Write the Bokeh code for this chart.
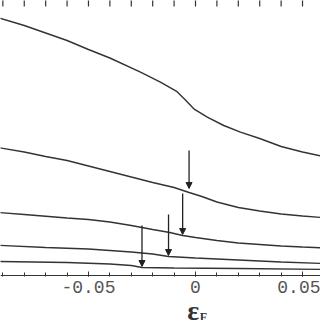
from bokeh.plotting import figure
from bokeh.models import (ColumnDataSource, Arrow, NormalHead, LinearAxis, FixedTicker,
                          Range1d, Label)
from bokeh.embed import file_html
from bokeh.resources import INLINE

# ---- data ----
c1_x = [-0.095, -0.08, -0.07, -0.06, -0.05, -0.04, -0.0257, -0.0164, -0.0086, -0.0047, -0.0008,
        0.0055, 0.0132, 0.021, 0.03, 0.04, 0.05, 0.062]
c1_y = [2.595, 2.50, 2.425, 2.35, 2.26, 2.175, 2.033, 1.933, 1.838, 1.755, 1.667,
        1.583, 1.50, 1.433, 1.37, 1.29, 1.235, 1.18]

c2_x = [-0.095, -0.08, -0.07, -0.06, -0.05, -0.04, -0.03, -0.02, -0.01, -0.003, 0.003, 0.01, 0.02, 0.03, 0.04, 0.05, 0.062]
c2_y = [1.29, 1.235, 1.19, 1.15, 1.095, 1.04, 0.985, 0.93, 0.88, 0.83, 0.79, 0.735, 0.68, 0.645, 0.615, 0.595, 0.575]

c3_x = [-0.095, -0.08, -0.06, -0.05, -0.04, -0.03, -0.02, -0.012, -0.006, 0.0, 0.01, 0.02, 0.03, 0.04, 0.05, 0.062]
c3_y = [0.635, 0.61, 0.575, 0.56, 0.535, 0.50, 0.46, 0.43, 0.40, 0.38, 0.35, 0.325, 0.31, 0.295, 0.285, 0.275]

c4_x = [-0.095, -0.07, -0.05, -0.03, -0.02, -0.0126, 0.0, 0.02, 0.04, 0.062]
c4_y = [0.305, 0.28, 0.265, 0.235, 0.215, 0.19, 0.175, 0.155, 0.135, 0.118]

c5_x = [-0.095, -0.06, -0.04, -0.03, -0.025, -0.01, 0.02, 0.062]
c5_y = [0.142, 0.13, 0.115, 0.10, 0.08, 0.075, 0.07, 0.06]

arrow_x = [-0.025, -0.0126, -0.006, -0.003]
arrow_y0 = [0.50, 0.61, 0.82, 1.25]
arrow_y1 = [0.09, 0.20, 0.41, 0.87]

major_ticks = [-0.1, -0.05, 0.0, 0.05]
major_labels = ["-0.1", "-0.05", "0", "0.05"]
minor_ticks = [-0.1, -0.09, -0.08, -0.07, -0.06, -0.05, -0.04, -0.03, -0.02, -0.01,
               0.0, 0.01, 0.02, 0.03, 0.04, 0.05, 0.06]
x_label = "ε"
x_label_sub = "F"

# ---- figure ----
Y_TOP = 2.75
TOP_TICK_LEN = 0.06   # in y units (=6 px, the top 1-2 px hidden behind the edge)
p = figure(width=320, height=320, output_backend="svg", toolbar_location=None,
           x_range=Range1d(-0.0911, 0.0584), y_range=Range1d(-0.45, Y_TOP),
           x_axis_location=None, y_axis_location=None,
           min_border=0)
p.grid.visible = False
p.outline_line_color = None
p.background_fill_color = "white"
p.border_fill_color = "white"

line_col = "#333333"
for xs, ys in [(c1_x, c1_y), (c2_x, c2_y), (c3_x, c3_y), (c4_x, c4_y), (c5_x, c5_y)]:
    p.line(xs, ys, line_color=line_col, line_width=1.4)

asrc = ColumnDataSource(dict(x=arrow_x, y0=arrow_y0, y1=arrow_y1))
p.add_layout(Arrow(source=asrc, x_start="x", y_start="y0", x_end="x", y_end="y1",
                   line_color="#222222", line_width=1.3,
                   end=NormalHead(size=6, fill_color="#222222", line_color="#222222")))

# bottom axis drawn inside the canvas at y = 0
bax = LinearAxis(ticker=FixedTicker(ticks=major_ticks, minor_ticks=minor_ticks), fixed_location=0.0)
bax.major_label_overrides = dict(zip(major_ticks, major_labels))
bax.axis_line_color = "#333333"
bax.major_tick_line_color = "#333333"
bax.minor_tick_line_color = "#333333"
bax.major_tick_in = 4
bax.major_tick_out = 1
bax.minor_tick_in = 3
bax.minor_tick_out = 1
bax.major_label_standoff = 4
bax.major_label_text_font = "Liberation Mono"
bax.major_label_text_font_size = "18px"
bax.major_label_text_color = "#555555"
p.add_layout(bax, "below")

# top frame ticks (frame edge itself lies just outside the picture)
n = len(minor_ticks)
p.segment(x0=minor_ticks, y0=[Y_TOP + 0.02] * n, x1=minor_ticks, y1=[Y_TOP - TOP_TICK_LEN] * n,
          line_color="#333333", line_width=1.2)

p.add_layout(Label(x=-0.001, y=-0.35, text=x_label, text_align="center", text_baseline="middle",
                   text_font="Liberation Serif", text_font_size="28px", text_font_style="bold",
                   text_color="#333333"))
p.add_layout(Label(x=0.0037, y=-0.41, text=x_label_sub, text_align="center", text_baseline="middle",
                   text_font="Liberation Serif", text_font_size="12px", text_font_style="bold",
                   text_color="#333333"))

open("out.html", "w").write(file_html(p, INLINE))
